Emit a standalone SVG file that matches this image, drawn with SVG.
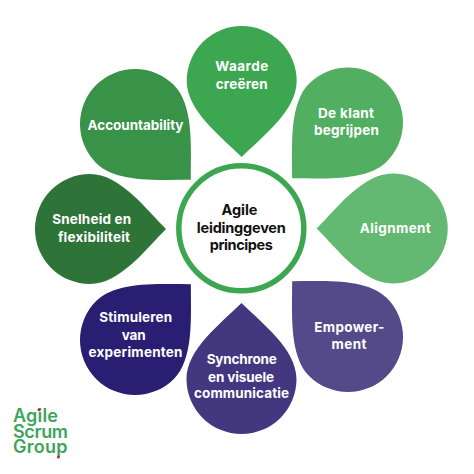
<svg xmlns="http://www.w3.org/2000/svg" width="474" height="474" viewBox="0 0 474 474">
<style>
text{font-family:"Inter","Liberation Sans",sans-serif;font-weight:700;text-anchor:middle;font-size:13.5px}
.w{fill:#fff}
.c{fill:#111;font-size:14.5px}
.l{fill:#3ba55a;font-size:18px;font-weight:600;text-anchor:start}
</style>
<defs>
<path id="drop" d="M0,76C-20,56 -55,30 -55,0A55,55 0 1 1 55,0C55,30 20,56 0,76Z"/>
<path id="corner" d="M0,79C-24,55 -55,28 -55,0A55,55 0 1 1 55,0C55,28 24,55 0,79Z"/>
</defs>
<rect width="474" height="474" fill="#fff"/>
<g id="connectors"/>
<g id="waarde"><use href="#drop" transform="translate(241.7 81)" fill="#3da650"/>
<text class="w" x="241.7" y="71" textLength="53">Waarde</text>
<text class="w" x="241.7" y="89" textLength="52">creëren</text></g>
<g id="klant"><use href="#corner" transform="translate(348 122.5) rotate(45)" fill="#52af62"/>
<text class="w" x="346" y="117.5" textLength="56">De klant</text>
<text class="w" x="346.5" y="135" textLength="65">begrijpen</text></g>
<g id="alignment"><use href="#drop" transform="translate(392.7 228.5) rotate(90)" fill="#63b972"/>
<text class="w" x="395.3" y="233" textLength="71">Alignment</text></g>
<g id="empowerment"><use href="#corner" transform="translate(348 337) rotate(135)" fill="#544a8a"/>
<text class="w" x="349.3" y="331.7" textLength="70">Empower-</text>
<text class="w" x="349" y="349" textLength="35">ment</text></g>
<g id="synchrone"><use href="#drop" transform="translate(241.5 379) rotate(180)" fill="#433780"/>
<text class="w" x="241.7" y="364" textLength="70">Synchrone</text>
<text class="w" x="241" y="381.7" textLength="66">en visuele</text>
<text class="w" x="241.5" y="398" textLength="95">communicatie</text></g>
<g id="stimuleren"><use href="#corner" transform="translate(135 340) rotate(-135)" fill="#2a1e73"/>
<text class="w" x="135.7" y="322.3" textLength="73">Stimuleren</text>
<text class="w" x="133.7" y="339.7" textLength="24">van</text>
<text class="w" x="135.5" y="356.7" textLength="94">experimenten</text></g>
<g id="snelheid"><use href="#drop" transform="translate(90 229) rotate(-90)" fill="#2e7438"/>
<text class="w" x="91.7" y="224.3" textLength="79">Snelheid en</text>
<text class="w" x="94" y="242" textLength="72">flexibiliteit</text></g>
<g id="accountability"><use href="#corner" transform="translate(135 124) rotate(-45)" fill="#389247"/>
<text class="w" x="135.5" y="130" textLength="96">Accountability</text></g>
<g id="center"><circle cx="241.3" cy="228.3" r="62.5" fill="#fff" stroke="#3da650" stroke-width="5.5"/>
<text class="c" x="239.5" y="215.3" textLength="36">Agile</text>
<text class="c" x="241.3" y="232.7" textLength="89">leidinggeven</text>
<text class="c" x="241.3" y="250" textLength="63">principes</text></g>
<g id="logo">
<text class="l" x="13" y="421.5" textLength="45">Agile</text>
<text class="l" x="13" y="437.5" textLength="55">Scrum</text>
<text class="l" x="13" y="453" textLength="54.5">Group</text>
<circle cx="39" cy="409.8" r="1.5" fill="#c8203c"/>
<circle cx="58.5" cy="457" r="1.5" fill="#c8203c"/>
</g>
</svg>
